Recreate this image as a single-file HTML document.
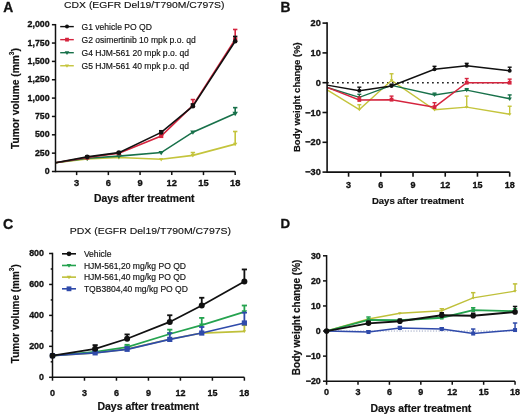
<!DOCTYPE html>
<html><head><meta charset="utf-8"><title>Figure</title>
<style>html,body{margin:0;padding:0;background:#fff;width:520px;height:414px;overflow:hidden}</style>
</head><body>
<svg width="520" height="414" viewBox="0 0 520 414" style="display:block;filter:blur(0.35px)">
<rect width="520" height="414" fill="#fff"/>
<g font-family='"Liberation Sans", sans-serif'>
<text x="3.3" y="11.8" font-size="13.8" font-weight="bold" fill="#111" stroke="#111" stroke-width="0.3">A</text>
<g transform="translate(0 8) scale(1 0.88)">
<text x="144.3" y="0" font-size="10.4" font-weight="normal" text-anchor="middle" fill="#111" stroke="#111" stroke-width="0.15" >CDX (EGFR Del19/T790M/C797S)</text>
</g>
<polyline points="55.5,162.77 87.21,159.02 118.92,157.55 161.2,159.32 192.91,155.35 235.19,144.12" fill="none" stroke="#c4c43c" stroke-width="1.6" stroke-linejoin="miter"/>
<line x1="192.91" y1="155.35" x2="192.91" y2="152.56" stroke="#c4c43c" stroke-width="1.6" />
<line x1="190.71" y1="152.56" x2="195.11" y2="152.56" stroke="#c4c43c" stroke-width="1.6" />
<line x1="235.19" y1="144.12" x2="235.19" y2="131.5" stroke="#c4c43c" stroke-width="1.6" />
<line x1="232.99" y1="131.5" x2="237.39" y2="131.5" stroke="#c4c43c" stroke-width="1.6" />
<path d="M85.03 157.69L89.4 157.69L87.21 161.11Z" fill="#c4c43c"/>
<path d="M116.73 156.22L121.11 156.22L118.92 159.64Z" fill="#c4c43c"/>
<path d="M159.01 157.99L163.38 157.99L161.2 161.41Z" fill="#c4c43c"/>
<path d="M190.72 154.02L195.09 154.02L192.91 157.44Z" fill="#c4c43c"/>
<path d="M233 142.79L237.38 142.79L235.19 146.21Z" fill="#c4c43c"/>
<polyline points="55.5,162.77 87.21,158.29 118.92,156.09 161.2,152.56 192.91,132.16 235.19,113.51" fill="none" stroke="#18714a" stroke-width="1.6" stroke-linejoin="miter"/>
<line x1="235.19" y1="113.51" x2="235.19" y2="107.64" stroke="#18714a" stroke-width="1.6" />
<line x1="232.99" y1="107.64" x2="237.39" y2="107.64" stroke="#18714a" stroke-width="1.6" />
<path d="M84.45 156.61L89.97 156.61L87.21 160.93Z" fill="#18714a"/>
<path d="M116.16 154.41L121.68 154.41L118.92 158.73Z" fill="#18714a"/>
<path d="M158.44 150.88L163.96 150.88L161.2 155.2Z" fill="#18714a"/>
<path d="M190.15 130.48L195.67 130.48L192.91 134.8Z" fill="#18714a"/>
<path d="M232.43 111.83L237.95 111.83L235.19 116.15Z" fill="#18714a"/>
<polyline points="55.5,162.77 87.21,157.55 118.92,153.15 161.2,135.97 192.91,105.44 235.19,39.38" fill="none" stroke="#d5243e" stroke-width="1.6" stroke-linejoin="miter"/>
<line x1="87.21" y1="157.55" x2="87.21" y2="156.97" stroke="#d5243e" stroke-width="1.6" />
<line x1="85.01" y1="156.97" x2="89.41" y2="156.97" stroke="#d5243e" stroke-width="1.6" />
<line x1="118.92" y1="153.15" x2="118.92" y2="152.42" stroke="#d5243e" stroke-width="1.6" />
<line x1="116.72" y1="152.42" x2="121.12" y2="152.42" stroke="#d5243e" stroke-width="1.6" />
<line x1="161.2" y1="135.97" x2="161.2" y2="134.87" stroke="#d5243e" stroke-width="1.6" />
<line x1="159" y1="134.87" x2="163.4" y2="134.87" stroke="#d5243e" stroke-width="1.6" />
<line x1="192.91" y1="105.44" x2="192.91" y2="99.57" stroke="#d5243e" stroke-width="1.6" />
<line x1="190.71" y1="99.57" x2="195.11" y2="99.57" stroke="#d5243e" stroke-width="1.6" />
<line x1="235.19" y1="39.38" x2="235.19" y2="29.47" stroke="#d5243e" stroke-width="1.6" />
<line x1="232.99" y1="29.47" x2="237.39" y2="29.47" stroke="#d5243e" stroke-width="1.6" />
<rect x="85.11" y="155.45" width="4.2" height="4.2" fill="#d5243e"/>
<rect x="116.82" y="151.05" width="4.2" height="4.2" fill="#d5243e"/>
<rect x="159.1" y="133.87" width="4.2" height="4.2" fill="#d5243e"/>
<rect x="190.81" y="103.34" width="4.2" height="4.2" fill="#d5243e"/>
<rect x="233.09" y="37.28" width="4.2" height="4.2" fill="#d5243e"/>
<polyline points="55.5,162.77 87.21,156.89 118.92,152.64 161.2,132.38 192.91,106.17 235.19,41.29" fill="none" stroke="#111111" stroke-width="1.6" stroke-linejoin="miter"/>
<line x1="87.21" y1="156.89" x2="87.21" y2="156.16" stroke="#111111" stroke-width="1.6" />
<line x1="85.01" y1="156.16" x2="89.41" y2="156.16" stroke="#111111" stroke-width="1.6" />
<line x1="118.92" y1="152.64" x2="118.92" y2="151.76" stroke="#111111" stroke-width="1.6" />
<line x1="116.72" y1="151.76" x2="121.12" y2="151.76" stroke="#111111" stroke-width="1.6" />
<line x1="161.2" y1="132.38" x2="161.2" y2="130.76" stroke="#111111" stroke-width="1.6" />
<line x1="159" y1="130.76" x2="163.4" y2="130.76" stroke="#111111" stroke-width="1.6" />
<line x1="192.91" y1="106.17" x2="192.91" y2="103.97" stroke="#111111" stroke-width="1.6" />
<line x1="190.71" y1="103.97" x2="195.11" y2="103.97" stroke="#111111" stroke-width="1.6" />
<line x1="235.19" y1="41.29" x2="235.19" y2="36.44" stroke="#111111" stroke-width="1.6" />
<line x1="232.99" y1="36.44" x2="237.39" y2="36.44" stroke="#111111" stroke-width="1.6" />
<circle cx="87.21" cy="156.89" r="2.3" fill="#111111"/>
<circle cx="118.92" cy="152.64" r="2.3" fill="#111111"/>
<circle cx="161.2" cy="132.38" r="2.3" fill="#111111"/>
<circle cx="192.91" cy="106.17" r="2.3" fill="#111111"/>
<circle cx="235.19" cy="41.29" r="2.3" fill="#111111"/>
<line x1="55.5" y1="23.95" x2="55.5" y2="172.25" stroke="#111" stroke-width="1.5" />
<line x1="55.5" y1="171.5" x2="235.19" y2="171.5" stroke="#111" stroke-width="1.5" />
<line x1="51.9" y1="171.5" x2="55.5" y2="171.5" stroke="#111" stroke-width="1.5" />
<text x="49.6" y="174.14" font-size="8.8" font-weight="bold" text-anchor="end" fill="#111" stroke="#111" stroke-width="0.32" >0</text>
<line x1="51.9" y1="153.15" x2="55.5" y2="153.15" stroke="#111" stroke-width="1.5" />
<text x="49.6" y="155.79" font-size="8.8" font-weight="bold" text-anchor="end" fill="#111" stroke="#111" stroke-width="0.32" >250</text>
<line x1="51.9" y1="134.8" x2="55.5" y2="134.8" stroke="#111" stroke-width="1.5" />
<text x="49.6" y="137.44" font-size="8.8" font-weight="bold" text-anchor="end" fill="#111" stroke="#111" stroke-width="0.32" >500</text>
<line x1="51.9" y1="116.45" x2="55.5" y2="116.45" stroke="#111" stroke-width="1.5" />
<text x="49.6" y="119.09" font-size="8.8" font-weight="bold" text-anchor="end" fill="#111" stroke="#111" stroke-width="0.32" >750</text>
<line x1="51.9" y1="98.1" x2="55.5" y2="98.1" stroke="#111" stroke-width="1.5" />
<text x="49.6" y="100.74" font-size="8.8" font-weight="bold" text-anchor="end" fill="#111" stroke="#111" stroke-width="0.32" >1,000</text>
<line x1="51.9" y1="79.75" x2="55.5" y2="79.75" stroke="#111" stroke-width="1.5" />
<text x="49.6" y="82.39" font-size="8.8" font-weight="bold" text-anchor="end" fill="#111" stroke="#111" stroke-width="0.32" >1,250</text>
<line x1="51.9" y1="61.4" x2="55.5" y2="61.4" stroke="#111" stroke-width="1.5" />
<text x="49.6" y="64.04" font-size="8.8" font-weight="bold" text-anchor="end" fill="#111" stroke="#111" stroke-width="0.32" >1,500</text>
<line x1="51.9" y1="43.05" x2="55.5" y2="43.05" stroke="#111" stroke-width="1.5" />
<text x="49.6" y="45.69" font-size="8.8" font-weight="bold" text-anchor="end" fill="#111" stroke="#111" stroke-width="0.32" >1,750</text>
<line x1="51.9" y1="24.7" x2="55.5" y2="24.7" stroke="#111" stroke-width="1.5" />
<text x="49.6" y="27.34" font-size="8.8" font-weight="bold" text-anchor="end" fill="#111" stroke="#111" stroke-width="0.32" >2,000</text>
<line x1="76.64" y1="171.5" x2="76.64" y2="175.1" stroke="#111" stroke-width="1.5" />
<text x="76.64" y="186" font-size="9.3" font-weight="bold" text-anchor="middle" fill="#111" stroke="#111" stroke-width="0.32" >3</text>
<line x1="108.35" y1="171.5" x2="108.35" y2="175.1" stroke="#111" stroke-width="1.5" />
<text x="108.35" y="186" font-size="9.3" font-weight="bold" text-anchor="middle" fill="#111" stroke="#111" stroke-width="0.32" >6</text>
<line x1="140.06" y1="171.5" x2="140.06" y2="175.1" stroke="#111" stroke-width="1.5" />
<text x="140.06" y="186" font-size="9.3" font-weight="bold" text-anchor="middle" fill="#111" stroke="#111" stroke-width="0.32" >9</text>
<line x1="171.77" y1="171.5" x2="171.77" y2="175.1" stroke="#111" stroke-width="1.5" />
<text x="171.77" y="186" font-size="9.3" font-weight="bold" text-anchor="middle" fill="#111" stroke="#111" stroke-width="0.32" >12</text>
<line x1="203.48" y1="171.5" x2="203.48" y2="175.1" stroke="#111" stroke-width="1.5" />
<text x="203.48" y="186" font-size="9.3" font-weight="bold" text-anchor="middle" fill="#111" stroke="#111" stroke-width="0.32" >15</text>
<line x1="235.19" y1="171.5" x2="235.19" y2="175.1" stroke="#111" stroke-width="1.5" />
<text x="235.19" y="186" font-size="9.3" font-weight="bold" text-anchor="middle" fill="#111" stroke="#111" stroke-width="0.32" >18</text>
<text x="144.3" y="201.9" font-size="10.4" font-weight="bold" text-anchor="middle" fill="#111" stroke="#111" stroke-width="0.2" >Days after treatment</text>
<text x="19.3" y="98.6" font-size="10.2" font-weight="bold" text-anchor="middle" fill="#111" stroke="#111" stroke-width="0.2" transform="rotate(-90 19.3 98.6)">Tumor volume (mm<tspan font-size="6.5" dy="-5.2">3</tspan><tspan dy="5.2">)</tspan></text>
<line x1="60.2" y1="26.6" x2="73.8" y2="26.6" stroke="#111111" stroke-width="1.4" />
<circle cx="67" cy="26.6" r="2" fill="#111111"/>
<text x="81.5" y="29.69" font-size="8.57" font-weight="normal" text-anchor="start" fill="#111" stroke="#111" stroke-width="0.15" >G1 vehicle PO QD</text>
<line x1="60.2" y1="39.65" x2="73.8" y2="39.65" stroke="#d5243e" stroke-width="1.4" />
<rect x="65.1" y="37.75" width="3.8" height="3.8" fill="#d5243e"/>
<text x="81.5" y="42.74" font-size="8.57" font-weight="normal" text-anchor="start" fill="#111" stroke="#111" stroke-width="0.15" >G2 osimertinib 10 mpk p.o. qd</text>
<line x1="60.2" y1="52.7" x2="73.8" y2="52.7" stroke="#18714a" stroke-width="1.4" />
<path d="M64.7 51.3L69.3 51.3L67 54.9Z" fill="#18714a"/>
<text x="81.5" y="55.79" font-size="8.57" font-weight="normal" text-anchor="start" fill="#111" stroke="#111" stroke-width="0.15" >G4 HJM-561 20 mpk p.o. qd</text>
<line x1="60.2" y1="65.75" x2="73.8" y2="65.75" stroke="#c4c43c" stroke-width="1.4" />
<path d="M64.93 64.49L69.07 64.49L67 67.73Z" fill="#c4c43c"/>
<text x="81.5" y="68.84" font-size="8.57" font-weight="normal" text-anchor="start" fill="#111" stroke="#111" stroke-width="0.15" >G5 HJM-561 40 mpk p.o. qd</text>
<text x="280.6" y="11.9" font-size="13.8" font-weight="bold" fill="#111" stroke="#111" stroke-width="0.3">B</text>
<line x1="327.1" y1="82.7" x2="509.68" y2="82.7" stroke="#111" stroke-width="1.5" stroke-dasharray="1.6 3.4"/>
<polyline points="327.1,89.85 359.32,109.52 391.54,80.32 434.5,109.82 466.72,107.14 509.68,114.29" fill="none" stroke="#c4c43c" stroke-width="1.4" stroke-linejoin="miter"/>
<line x1="359.32" y1="109.52" x2="359.32" y2="104.75" stroke="#c4c43c" stroke-width="1.4" />
<line x1="357.32" y1="104.75" x2="361.32" y2="104.75" stroke="#c4c43c" stroke-width="1.4" />
<line x1="391.54" y1="80.32" x2="391.54" y2="73.76" stroke="#c4c43c" stroke-width="1.4" />
<line x1="389.54" y1="73.76" x2="393.54" y2="73.76" stroke="#c4c43c" stroke-width="1.4" />
<line x1="466.72" y1="107.14" x2="466.72" y2="96.11" stroke="#c4c43c" stroke-width="1.4" />
<line x1="464.72" y1="96.11" x2="468.72" y2="96.11" stroke="#c4c43c" stroke-width="1.4" />
<line x1="509.68" y1="114.29" x2="509.68" y2="106.24" stroke="#c4c43c" stroke-width="1.4" />
<line x1="507.68" y1="106.24" x2="511.68" y2="106.24" stroke="#c4c43c" stroke-width="1.4" />
<path d="M357.6 108.47L361.05 108.47L359.32 111.17Z" fill="#c4c43c"/>
<path d="M389.81 79.27L393.27 79.27L391.54 81.97Z" fill="#c4c43c"/>
<path d="M432.77 108.77L436.23 108.77L434.5 111.47Z" fill="#c4c43c"/>
<path d="M465 106.09L468.45 106.09L466.72 108.79Z" fill="#c4c43c"/>
<path d="M507.96 113.24L511.41 113.24L509.68 115.94Z" fill="#c4c43c"/>
<polyline points="327.1,87.47 359.32,97.3 391.54,85.38 434.5,94.92 466.72,90.15 509.68,98.79" fill="none" stroke="#18714a" stroke-width="1.4" stroke-linejoin="miter"/>
<line x1="359.32" y1="97.3" x2="359.32" y2="94.32" stroke="#18714a" stroke-width="1.4" />
<line x1="357.32" y1="94.32" x2="361.32" y2="94.32" stroke="#18714a" stroke-width="1.4" />
<line x1="434.5" y1="94.92" x2="434.5" y2="93.13" stroke="#18714a" stroke-width="1.4" />
<line x1="432.5" y1="93.13" x2="436.5" y2="93.13" stroke="#18714a" stroke-width="1.4" />
<line x1="466.72" y1="90.15" x2="466.72" y2="88.66" stroke="#18714a" stroke-width="1.4" />
<line x1="464.72" y1="88.66" x2="468.72" y2="88.66" stroke="#18714a" stroke-width="1.4" />
<line x1="509.68" y1="98.79" x2="509.68" y2="94.92" stroke="#18714a" stroke-width="1.4" />
<line x1="507.68" y1="94.92" x2="511.68" y2="94.92" stroke="#18714a" stroke-width="1.4" />
<path d="M357.14 95.97L361.51 95.97L359.32 99.39Z" fill="#18714a"/>
<path d="M389.36 84.05L393.73 84.05L391.54 87.47Z" fill="#18714a"/>
<path d="M432.31 93.59L436.69 93.59L434.5 97.01Z" fill="#18714a"/>
<path d="M464.54 88.82L468.91 88.82L466.72 92.24Z" fill="#18714a"/>
<path d="M507.5 97.46L511.87 97.46L509.68 100.88Z" fill="#18714a"/>
<polyline points="327.1,87.47 359.32,99.98 391.54,99.69 434.5,107.14 466.72,82.7 509.68,82.7" fill="none" stroke="#d5243e" stroke-width="1.4" stroke-linejoin="miter"/>
<line x1="359.32" y1="99.98" x2="359.32" y2="97" stroke="#d5243e" stroke-width="1.4" />
<line x1="357.32" y1="97" x2="361.32" y2="97" stroke="#d5243e" stroke-width="1.4" />
<line x1="391.54" y1="99.69" x2="391.54" y2="96.11" stroke="#d5243e" stroke-width="1.4" />
<line x1="389.54" y1="96.11" x2="393.54" y2="96.11" stroke="#d5243e" stroke-width="1.4" />
<line x1="434.5" y1="107.14" x2="434.5" y2="102.67" stroke="#d5243e" stroke-width="1.4" />
<line x1="432.5" y1="102.67" x2="436.5" y2="102.67" stroke="#d5243e" stroke-width="1.4" />
<line x1="466.72" y1="82.7" x2="466.72" y2="78.53" stroke="#d5243e" stroke-width="1.4" />
<line x1="464.72" y1="78.53" x2="468.72" y2="78.53" stroke="#d5243e" stroke-width="1.4" />
<line x1="509.68" y1="82.7" x2="509.68" y2="79.12" stroke="#d5243e" stroke-width="1.4" />
<line x1="507.68" y1="79.12" x2="511.68" y2="79.12" stroke="#d5243e" stroke-width="1.4" />
<rect x="357.42" y="98.08" width="3.8" height="3.8" fill="#d5243e"/>
<rect x="389.64" y="97.79" width="3.8" height="3.8" fill="#d5243e"/>
<rect x="432.6" y="105.24" width="3.8" height="3.8" fill="#d5243e"/>
<rect x="464.82" y="80.8" width="3.8" height="3.8" fill="#d5243e"/>
<rect x="507.78" y="80.8" width="3.8" height="3.8" fill="#d5243e"/>
<polyline points="327.1,85.08 359.32,90.75 391.54,85.98 434.5,69.29 466.72,65.71 509.68,70.78" fill="none" stroke="#111111" stroke-width="1.4" stroke-linejoin="miter"/>
<line x1="359.32" y1="90.75" x2="359.32" y2="87.17" stroke="#111111" stroke-width="1.4" />
<line x1="357.32" y1="87.17" x2="361.32" y2="87.17" stroke="#111111" stroke-width="1.4" />
<line x1="391.54" y1="85.98" x2="391.54" y2="84.19" stroke="#111111" stroke-width="1.4" />
<line x1="389.54" y1="84.19" x2="393.54" y2="84.19" stroke="#111111" stroke-width="1.4" />
<line x1="434.5" y1="69.29" x2="434.5" y2="66.31" stroke="#111111" stroke-width="1.4" />
<line x1="432.5" y1="66.31" x2="436.5" y2="66.31" stroke="#111111" stroke-width="1.4" />
<line x1="466.72" y1="65.71" x2="466.72" y2="63.33" stroke="#111111" stroke-width="1.4" />
<line x1="464.72" y1="63.33" x2="468.72" y2="63.33" stroke="#111111" stroke-width="1.4" />
<line x1="509.68" y1="70.78" x2="509.68" y2="67.2" stroke="#111111" stroke-width="1.4" />
<line x1="507.68" y1="67.2" x2="511.68" y2="67.2" stroke="#111111" stroke-width="1.4" />
<circle cx="359.32" cy="90.75" r="2" fill="#111111"/>
<circle cx="391.54" cy="85.98" r="2" fill="#111111"/>
<circle cx="434.5" cy="69.29" r="2" fill="#111111"/>
<circle cx="466.72" cy="65.71" r="2" fill="#111111"/>
<circle cx="509.68" cy="70.78" r="2" fill="#111111"/>
<line x1="327.1" y1="22.3" x2="327.1" y2="172.9" stroke="#111" stroke-width="1.6" />
<line x1="327.1" y1="172.1" x2="509.68" y2="172.1" stroke="#111" stroke-width="1.6" />
<line x1="322.5" y1="172.1" x2="327.1" y2="172.1" stroke="#111" stroke-width="1.6" />
<text x="320.8" y="175.14" font-size="9.2" font-weight="bold" text-anchor="end" fill="#111" stroke="#111" stroke-width="0.32" >&#8722;30</text>
<line x1="322.5" y1="142.3" x2="327.1" y2="142.3" stroke="#111" stroke-width="1.6" />
<text x="320.8" y="145.34" font-size="9.2" font-weight="bold" text-anchor="end" fill="#111" stroke="#111" stroke-width="0.32" >&#8722;20</text>
<line x1="322.5" y1="112.5" x2="327.1" y2="112.5" stroke="#111" stroke-width="1.6" />
<text x="320.8" y="115.54" font-size="9.2" font-weight="bold" text-anchor="end" fill="#111" stroke="#111" stroke-width="0.32" >&#8722;10</text>
<line x1="322.5" y1="82.7" x2="327.1" y2="82.7" stroke="#111" stroke-width="1.6" />
<text x="320.8" y="85.74" font-size="9.2" font-weight="bold" text-anchor="end" fill="#111" stroke="#111" stroke-width="0.32" >0</text>
<line x1="322.5" y1="52.9" x2="327.1" y2="52.9" stroke="#111" stroke-width="1.6" />
<text x="320.8" y="55.94" font-size="9.2" font-weight="bold" text-anchor="end" fill="#111" stroke="#111" stroke-width="0.32" >10</text>
<line x1="322.5" y1="23.1" x2="327.1" y2="23.1" stroke="#111" stroke-width="1.6" />
<text x="320.8" y="26.14" font-size="9.2" font-weight="bold" text-anchor="end" fill="#111" stroke="#111" stroke-width="0.32" >20</text>
<line x1="348.58" y1="172.1" x2="348.58" y2="176.7" stroke="#111" stroke-width="1.6" />
<text x="348.58" y="187.5" font-size="9.0" font-weight="bold" text-anchor="middle" fill="#111" stroke="#111" stroke-width="0.32" >3</text>
<line x1="380.8" y1="172.1" x2="380.8" y2="176.7" stroke="#111" stroke-width="1.6" />
<text x="380.8" y="187.5" font-size="9.0" font-weight="bold" text-anchor="middle" fill="#111" stroke="#111" stroke-width="0.32" >6</text>
<line x1="413.02" y1="172.1" x2="413.02" y2="176.7" stroke="#111" stroke-width="1.6" />
<text x="413.02" y="187.5" font-size="9.0" font-weight="bold" text-anchor="middle" fill="#111" stroke="#111" stroke-width="0.32" >9</text>
<line x1="445.24" y1="172.1" x2="445.24" y2="176.7" stroke="#111" stroke-width="1.6" />
<text x="445.24" y="187.5" font-size="9.0" font-weight="bold" text-anchor="middle" fill="#111" stroke="#111" stroke-width="0.32" >12</text>
<line x1="477.46" y1="172.1" x2="477.46" y2="176.7" stroke="#111" stroke-width="1.6" />
<text x="477.46" y="187.5" font-size="9.0" font-weight="bold" text-anchor="middle" fill="#111" stroke="#111" stroke-width="0.32" >15</text>
<line x1="509.68" y1="172.1" x2="509.68" y2="176.7" stroke="#111" stroke-width="1.6" />
<text x="509.68" y="187.5" font-size="9.0" font-weight="bold" text-anchor="middle" fill="#111" stroke="#111" stroke-width="0.32" >18</text>
<text x="417.9" y="203.5" font-size="9.5" font-weight="bold" text-anchor="middle" fill="#111" stroke="#111" stroke-width="0.2" >Days after treatment</text>
<text x="300.3" y="97.1" font-size="9.5" font-weight="bold" text-anchor="middle" fill="#111" stroke="#111" stroke-width="0.2" transform="rotate(-90 300.3 97.1)">Body weight change (%)</text>
<text x="3.1" y="228.5" font-size="14.2" font-weight="bold" fill="#111" stroke="#111" stroke-width="0.3">C</text>
<g transform="translate(0 234) scale(1 0.94)">
<text x="150.4" y="0" font-size="10.5" font-weight="normal" text-anchor="middle" fill="#111" stroke="#111" stroke-width="0.15" >PDX (EGFR Del19/T790M/C797S)</text>
</g>
<polyline points="52.5,355.63 95.14,352.85 127.12,349.14 169.76,339.23 201.74,333.04 244.38,331.34" fill="none" stroke="#bfc03a" stroke-width="1.7" stroke-linejoin="miter"/>
<line x1="244.38" y1="331.34" x2="244.38" y2="325.15" stroke="#bfc03a" stroke-width="1.8" />
<line x1="241.78" y1="325.15" x2="246.98" y2="325.15" stroke="#bfc03a" stroke-width="1.8" />
<path d="M50.77 354.58L54.23 354.58L52.5 357.28Z" fill="#bfc03a"/>
<path d="M93.42 351.8L96.86 351.8L95.14 354.5Z" fill="#bfc03a"/>
<path d="M125.4 348.09L128.84 348.09L127.12 350.79Z" fill="#bfc03a"/>
<path d="M168.03 338.18L171.48 338.18L169.76 340.88Z" fill="#bfc03a"/>
<path d="M200.02 331.99L203.47 331.99L201.74 334.69Z" fill="#bfc03a"/>
<path d="M242.66 330.29L246.1 330.29L244.38 332.99Z" fill="#bfc03a"/>
<polyline points="52.5,355.63 95.14,351.77 127.12,347.12 169.76,333.97 201.74,325.15 244.38,311.84" fill="none" stroke="#25a34f" stroke-width="1.7" stroke-linejoin="miter"/>
<line x1="95.14" y1="351.77" x2="95.14" y2="349.91" stroke="#25a34f" stroke-width="1.8" />
<line x1="92.54" y1="349.91" x2="97.74" y2="349.91" stroke="#25a34f" stroke-width="1.8" />
<line x1="127.12" y1="347.12" x2="127.12" y2="344.8" stroke="#25a34f" stroke-width="1.8" />
<line x1="124.52" y1="344.8" x2="129.72" y2="344.8" stroke="#25a34f" stroke-width="1.8" />
<line x1="169.76" y1="333.97" x2="169.76" y2="329.64" stroke="#25a34f" stroke-width="1.8" />
<line x1="167.16" y1="329.64" x2="172.36" y2="329.64" stroke="#25a34f" stroke-width="1.8" />
<line x1="201.74" y1="325.15" x2="201.74" y2="317.88" stroke="#25a34f" stroke-width="1.8" />
<line x1="199.14" y1="317.88" x2="204.34" y2="317.88" stroke="#25a34f" stroke-width="1.8" />
<line x1="244.38" y1="311.84" x2="244.38" y2="305.5" stroke="#25a34f" stroke-width="1.8" />
<line x1="241.78" y1="305.5" x2="246.98" y2="305.5" stroke="#25a34f" stroke-width="1.8" />
<path d="M49.74 353.95L55.26 353.95L52.5 358.27Z" fill="#25a34f"/>
<path d="M92.38 350.09L97.9 350.09L95.14 354.41Z" fill="#25a34f"/>
<path d="M124.36 345.44L129.88 345.44L127.12 349.76Z" fill="#25a34f"/>
<path d="M167 332.29L172.52 332.29L169.76 336.61Z" fill="#25a34f"/>
<path d="M198.98 323.47L204.5 323.47L201.74 327.79Z" fill="#25a34f"/>
<path d="M241.62 310.16L247.14 310.16L244.38 314.48Z" fill="#25a34f"/>
<polyline points="52.5,355.63 95.14,352.85 127.12,349.29 169.76,339.39 201.74,333.04 244.38,322.98" fill="none" stroke="#2f4aaa" stroke-width="1.7" stroke-linejoin="miter"/>
<line x1="95.14" y1="352.85" x2="95.14" y2="351.3" stroke="#2f4aaa" stroke-width="1.8" />
<line x1="92.54" y1="351.3" x2="97.74" y2="351.3" stroke="#2f4aaa" stroke-width="1.8" />
<line x1="127.12" y1="349.29" x2="127.12" y2="347.12" stroke="#2f4aaa" stroke-width="1.8" />
<line x1="124.52" y1="347.12" x2="129.72" y2="347.12" stroke="#2f4aaa" stroke-width="1.8" />
<line x1="169.76" y1="339.39" x2="169.76" y2="333.2" stroke="#2f4aaa" stroke-width="1.8" />
<line x1="167.16" y1="333.2" x2="172.36" y2="333.2" stroke="#2f4aaa" stroke-width="1.8" />
<line x1="201.74" y1="333.04" x2="201.74" y2="327.01" stroke="#2f4aaa" stroke-width="1.8" />
<line x1="199.14" y1="327.01" x2="204.34" y2="327.01" stroke="#2f4aaa" stroke-width="1.8" />
<line x1="244.38" y1="322.98" x2="244.38" y2="312.61" stroke="#2f4aaa" stroke-width="1.8" />
<line x1="241.78" y1="312.61" x2="246.98" y2="312.61" stroke="#2f4aaa" stroke-width="1.8" />
<rect x="49.9" y="353.03" width="5.2" height="5.2" fill="#2f4aaa"/>
<rect x="92.54" y="350.25" width="5.2" height="5.2" fill="#2f4aaa"/>
<rect x="124.52" y="346.69" width="5.2" height="5.2" fill="#2f4aaa"/>
<rect x="167.16" y="336.79" width="5.2" height="5.2" fill="#2f4aaa"/>
<rect x="199.14" y="330.44" width="5.2" height="5.2" fill="#2f4aaa"/>
<rect x="241.78" y="320.38" width="5.2" height="5.2" fill="#2f4aaa"/>
<polyline points="52.5,355.63 95.14,348.83 127.12,338.77 169.76,321.9 201.74,305.5 244.38,281.51" fill="none" stroke="#111111" stroke-width="1.7" stroke-linejoin="miter"/>
<line x1="95.14" y1="348.83" x2="95.14" y2="345.11" stroke="#111111" stroke-width="1.8" />
<line x1="92.54" y1="345.11" x2="97.74" y2="345.11" stroke="#111111" stroke-width="1.8" />
<line x1="127.12" y1="338.77" x2="127.12" y2="334.43" stroke="#111111" stroke-width="1.8" />
<line x1="124.52" y1="334.43" x2="129.72" y2="334.43" stroke="#111111" stroke-width="1.8" />
<line x1="169.76" y1="321.9" x2="169.76" y2="315.25" stroke="#111111" stroke-width="1.8" />
<line x1="167.16" y1="315.25" x2="172.36" y2="315.25" stroke="#111111" stroke-width="1.8" />
<line x1="201.74" y1="305.5" x2="201.74" y2="297.76" stroke="#111111" stroke-width="1.8" />
<line x1="199.14" y1="297.76" x2="204.34" y2="297.76" stroke="#111111" stroke-width="1.8" />
<line x1="244.38" y1="281.51" x2="244.38" y2="269.44" stroke="#111111" stroke-width="1.8" />
<line x1="241.78" y1="269.44" x2="246.98" y2="269.44" stroke="#111111" stroke-width="1.8" />
<circle cx="52.5" cy="355.63" r="3" fill="#111111"/>
<circle cx="95.14" cy="348.83" r="3" fill="#111111"/>
<circle cx="127.12" cy="338.77" r="3" fill="#111111"/>
<circle cx="169.76" cy="321.9" r="3" fill="#111111"/>
<circle cx="201.74" cy="305.5" r="3" fill="#111111"/>
<circle cx="244.38" cy="281.51" r="3" fill="#111111"/>
<line x1="52.5" y1="252.75" x2="52.5" y2="378.05" stroke="#111" stroke-width="1.5" />
<line x1="52.5" y1="377.3" x2="244.38" y2="377.3" stroke="#111" stroke-width="1.5" />
<line x1="49.1" y1="377.3" x2="52.5" y2="377.3" stroke="#111" stroke-width="1.5" />
<text x="44" y="380.24" font-size="8.9" font-weight="bold" text-anchor="end" fill="#111" stroke="#111" stroke-width="0.32" >0</text>
<line x1="49.1" y1="346.35" x2="52.5" y2="346.35" stroke="#111" stroke-width="1.5" />
<text x="44" y="349.29" font-size="8.9" font-weight="bold" text-anchor="end" fill="#111" stroke="#111" stroke-width="0.32" >200</text>
<line x1="49.1" y1="315.4" x2="52.5" y2="315.4" stroke="#111" stroke-width="1.5" />
<text x="44" y="318.34" font-size="8.9" font-weight="bold" text-anchor="end" fill="#111" stroke="#111" stroke-width="0.32" >400</text>
<line x1="49.1" y1="284.45" x2="52.5" y2="284.45" stroke="#111" stroke-width="1.5" />
<text x="44" y="287.39" font-size="8.9" font-weight="bold" text-anchor="end" fill="#111" stroke="#111" stroke-width="0.32" >600</text>
<line x1="49.1" y1="253.5" x2="52.5" y2="253.5" stroke="#111" stroke-width="1.5" />
<text x="44" y="256.44" font-size="8.9" font-weight="bold" text-anchor="end" fill="#111" stroke="#111" stroke-width="0.32" >800</text>
<line x1="50.7" y1="361.82" x2="52.5" y2="361.82" stroke="#111" stroke-width="1.5" />
<line x1="50.7" y1="330.88" x2="52.5" y2="330.88" stroke="#111" stroke-width="1.5" />
<line x1="50.7" y1="299.93" x2="52.5" y2="299.93" stroke="#111" stroke-width="1.5" />
<line x1="50.7" y1="268.98" x2="52.5" y2="268.98" stroke="#111" stroke-width="1.5" />
<line x1="52.5" y1="377.3" x2="52.5" y2="380.7" stroke="#111" stroke-width="1.5" />
<text x="52.5" y="395.7" font-size="9.0" font-weight="bold" text-anchor="middle" fill="#111" stroke="#111" stroke-width="0.32" >0</text>
<line x1="84.48" y1="377.3" x2="84.48" y2="380.7" stroke="#111" stroke-width="1.5" />
<text x="84.48" y="395.7" font-size="9.0" font-weight="bold" text-anchor="middle" fill="#111" stroke="#111" stroke-width="0.32" >3</text>
<line x1="116.46" y1="377.3" x2="116.46" y2="380.7" stroke="#111" stroke-width="1.5" />
<text x="116.46" y="395.7" font-size="9.0" font-weight="bold" text-anchor="middle" fill="#111" stroke="#111" stroke-width="0.32" >6</text>
<line x1="148.44" y1="377.3" x2="148.44" y2="380.7" stroke="#111" stroke-width="1.5" />
<text x="148.44" y="395.7" font-size="9.0" font-weight="bold" text-anchor="middle" fill="#111" stroke="#111" stroke-width="0.32" >9</text>
<line x1="180.42" y1="377.3" x2="180.42" y2="380.7" stroke="#111" stroke-width="1.5" />
<text x="180.42" y="395.7" font-size="9.0" font-weight="bold" text-anchor="middle" fill="#111" stroke="#111" stroke-width="0.32" >12</text>
<line x1="212.4" y1="377.3" x2="212.4" y2="380.7" stroke="#111" stroke-width="1.5" />
<text x="212.4" y="395.7" font-size="9.0" font-weight="bold" text-anchor="middle" fill="#111" stroke="#111" stroke-width="0.32" >15</text>
<line x1="244.38" y1="377.3" x2="244.38" y2="380.7" stroke="#111" stroke-width="1.5" />
<text x="244.38" y="395.7" font-size="9.0" font-weight="bold" text-anchor="middle" fill="#111" stroke="#111" stroke-width="0.32" >18</text>
<text x="148.2" y="410.4" font-size="10.5" font-weight="bold" text-anchor="middle" fill="#111" stroke="#111" stroke-width="0.2" >Days after treatment</text>
<text x="19.2" y="313.75" font-size="10.0" font-weight="bold" text-anchor="middle" fill="#111" stroke="#111" stroke-width="0.2" transform="rotate(-90 19.2 313.75)">Tumor volume (mm<tspan font-size="6.4" dy="-5.3">3</tspan><tspan dy="5.3">)</tspan></text>
<line x1="62" y1="253.8" x2="76" y2="253.8" stroke="#111111" stroke-width="1.6" />
<circle cx="69" cy="253.8" r="2.4" fill="#111111"/>
<text x="83.9" y="256.88" font-size="8.55" font-weight="normal" text-anchor="start" fill="#111" stroke="#111" stroke-width="0.15" >Vehicle</text>
<line x1="62" y1="265.47" x2="76" y2="265.47" stroke="#25a34f" stroke-width="1.6" />
<path d="M66.7 264.07L71.3 264.07L69 267.67Z" fill="#25a34f"/>
<text x="83.9" y="268.55" font-size="8.55" font-weight="normal" text-anchor="start" fill="#111" stroke="#111" stroke-width="0.15" >HJM-561,20 mg/kg PO QD</text>
<line x1="62" y1="277.14" x2="76" y2="277.14" stroke="#bfc03a" stroke-width="1.6" />
<path d="M66.7 275.74L71.3 275.74L69 279.34Z" fill="#bfc03a"/>
<text x="83.9" y="280.22" font-size="8.55" font-weight="normal" text-anchor="start" fill="#111" stroke="#111" stroke-width="0.15" >HJM-561,40 mg/kg PO QD</text>
<line x1="62" y1="288.81" x2="76" y2="288.81" stroke="#2f4aaa" stroke-width="1.6" />
<rect x="66.6" y="286.41" width="4.8" height="4.8" fill="#2f4aaa"/>
<text x="83.9" y="291.89" font-size="8.55" font-weight="normal" text-anchor="start" fill="#111" stroke="#111" stroke-width="0.15" >TQB3804,40 mg/kg PO QD</text>
<text x="280.5" y="228.3" font-size="13.3" font-weight="bold" fill="#111" stroke="#111" stroke-width="0.3">D</text>
<line x1="326.6" y1="331.04" x2="515.06" y2="331.04" stroke="#9aa3c0" stroke-width="1.0" stroke-dasharray="1.2 1.6"/>
<polyline points="326.6,331.04 368.48,319 399.89,313.23 441.77,310.73 473.18,297.93 515.06,291.16" fill="none" stroke="#bfc03a" stroke-width="1.4" stroke-linejoin="miter"/>
<line x1="441.77" y1="310.73" x2="441.77" y2="308.72" stroke="#bfc03a" stroke-width="1.5" />
<line x1="439.57" y1="308.72" x2="443.97" y2="308.72" stroke="#bfc03a" stroke-width="1.5" />
<line x1="473.18" y1="297.93" x2="473.18" y2="292.67" stroke="#bfc03a" stroke-width="1.5" />
<line x1="470.98" y1="292.67" x2="475.38" y2="292.67" stroke="#bfc03a" stroke-width="1.5" />
<line x1="515.06" y1="291.16" x2="515.06" y2="283.89" stroke="#bfc03a" stroke-width="1.5" />
<line x1="512.86" y1="283.89" x2="517.26" y2="283.89" stroke="#bfc03a" stroke-width="1.5" />
<path d="M324.88 329.99L328.33 329.99L326.6 332.69Z" fill="#bfc03a"/>
<path d="M366.75 317.95L370.21 317.95L368.48 320.65Z" fill="#bfc03a"/>
<path d="M398.17 312.18L401.62 312.18L399.89 314.88Z" fill="#bfc03a"/>
<path d="M440.05 309.68L443.5 309.68L441.77 312.38Z" fill="#bfc03a"/>
<path d="M471.46 296.88L474.91 296.88L473.18 299.58Z" fill="#bfc03a"/>
<path d="M513.34 290.11L516.79 290.11L515.06 292.81Z" fill="#bfc03a"/>
<polyline points="326.6,331.04 368.48,332.04 399.89,328.03 441.77,329.03 473.18,333.55 515.06,330.04" fill="none" stroke="#2f4aaa" stroke-width="1.5" stroke-linejoin="miter"/>
<line x1="368.48" y1="332.04" x2="368.48" y2="330.79" stroke="#2f4aaa" stroke-width="1.5" />
<line x1="366.28" y1="330.79" x2="370.68" y2="330.79" stroke="#2f4aaa" stroke-width="1.5" />
<line x1="399.89" y1="328.03" x2="399.89" y2="326.53" stroke="#2f4aaa" stroke-width="1.5" />
<line x1="397.69" y1="326.53" x2="402.09" y2="326.53" stroke="#2f4aaa" stroke-width="1.5" />
<line x1="441.77" y1="329.03" x2="441.77" y2="327.78" stroke="#2f4aaa" stroke-width="1.5" />
<line x1="439.57" y1="327.78" x2="443.97" y2="327.78" stroke="#2f4aaa" stroke-width="1.5" />
<line x1="473.18" y1="333.55" x2="473.18" y2="329.03" stroke="#2f4aaa" stroke-width="1.5" />
<line x1="470.98" y1="329.03" x2="475.38" y2="329.03" stroke="#2f4aaa" stroke-width="1.5" />
<line x1="515.06" y1="330.04" x2="515.06" y2="323.01" stroke="#2f4aaa" stroke-width="1.5" />
<line x1="512.86" y1="323.01" x2="517.26" y2="323.01" stroke="#2f4aaa" stroke-width="1.5" />
<rect x="324.6" y="329.04" width="4" height="4" fill="#2f4aaa"/>
<rect x="366.48" y="330.04" width="4" height="4" fill="#2f4aaa"/>
<rect x="397.89" y="326.03" width="4" height="4" fill="#2f4aaa"/>
<rect x="439.77" y="327.03" width="4" height="4" fill="#2f4aaa"/>
<rect x="471.18" y="331.55" width="4" height="4" fill="#2f4aaa"/>
<rect x="513.06" y="328.04" width="4" height="4" fill="#2f4aaa"/>
<polyline points="326.6,331.04 368.48,320 399.89,320.26 441.77,317.75 473.18,310.22 515.06,311.23" fill="none" stroke="#25a34f" stroke-width="1.8" stroke-linejoin="miter"/>
<line x1="368.48" y1="320" x2="368.48" y2="317" stroke="#25a34f" stroke-width="1.5" />
<line x1="366.28" y1="317" x2="370.68" y2="317" stroke="#25a34f" stroke-width="1.5" />
<line x1="473.18" y1="310.22" x2="473.18" y2="307.72" stroke="#25a34f" stroke-width="1.5" />
<line x1="470.98" y1="307.72" x2="475.38" y2="307.72" stroke="#25a34f" stroke-width="1.5" />
<line x1="515.06" y1="311.23" x2="515.06" y2="308.72" stroke="#25a34f" stroke-width="1.5" />
<line x1="512.86" y1="308.72" x2="517.26" y2="308.72" stroke="#25a34f" stroke-width="1.5" />
<rect x="324.8" y="329.24" width="3.6" height="3.6" fill="#25a34f"/>
<rect x="366.68" y="318.2" width="3.6" height="3.6" fill="#25a34f"/>
<rect x="398.09" y="318.46" width="3.6" height="3.6" fill="#25a34f"/>
<rect x="439.97" y="315.95" width="3.6" height="3.6" fill="#25a34f"/>
<rect x="471.38" y="308.42" width="3.6" height="3.6" fill="#25a34f"/>
<rect x="513.26" y="309.43" width="3.6" height="3.6" fill="#25a34f"/>
<polyline points="326.6,331.04 368.48,323.27 399.89,321.26 441.77,315.24 473.18,315.74 515.06,311.98" fill="none" stroke="#111111" stroke-width="1.8" stroke-linejoin="miter"/>
<line x1="368.48" y1="323.27" x2="368.48" y2="321.26" stroke="#111111" stroke-width="1.5" />
<line x1="366.28" y1="321.26" x2="370.68" y2="321.26" stroke="#111111" stroke-width="1.5" />
<line x1="399.89" y1="321.26" x2="399.89" y2="319.25" stroke="#111111" stroke-width="1.5" />
<line x1="397.69" y1="319.25" x2="402.09" y2="319.25" stroke="#111111" stroke-width="1.5" />
<line x1="441.77" y1="315.24" x2="441.77" y2="312.73" stroke="#111111" stroke-width="1.5" />
<line x1="439.57" y1="312.73" x2="443.97" y2="312.73" stroke="#111111" stroke-width="1.5" />
<line x1="473.18" y1="315.74" x2="473.18" y2="313.23" stroke="#111111" stroke-width="1.5" />
<line x1="470.98" y1="313.23" x2="475.38" y2="313.23" stroke="#111111" stroke-width="1.5" />
<line x1="515.06" y1="311.98" x2="515.06" y2="306.46" stroke="#111111" stroke-width="1.5" />
<line x1="512.86" y1="306.46" x2="517.26" y2="306.46" stroke="#111111" stroke-width="1.5" />
<circle cx="326.6" cy="331.04" r="2.8" fill="#111111"/>
<circle cx="368.48" cy="323.27" r="2.8" fill="#111111"/>
<circle cx="399.89" cy="321.26" r="2.8" fill="#111111"/>
<circle cx="441.77" cy="315.24" r="2.8" fill="#111111"/>
<circle cx="473.18" cy="315.74" r="2.8" fill="#111111"/>
<circle cx="515.06" cy="311.98" r="2.8" fill="#111111"/>
<line x1="326.6" y1="255.05" x2="326.6" y2="381.95" stroke="#111" stroke-width="1.5" />
<line x1="326.6" y1="381.2" x2="515.06" y2="381.2" stroke="#111" stroke-width="1.5" />
<line x1="323" y1="381.2" x2="326.6" y2="381.2" stroke="#111" stroke-width="1.5" />
<text x="320.8" y="384.14" font-size="8.9" font-weight="bold" text-anchor="end" fill="#111" stroke="#111" stroke-width="0.32" >&#8722;20</text>
<line x1="323" y1="356.12" x2="326.6" y2="356.12" stroke="#111" stroke-width="1.5" />
<text x="320.8" y="359.06" font-size="8.9" font-weight="bold" text-anchor="end" fill="#111" stroke="#111" stroke-width="0.32" >&#8722;10</text>
<line x1="323" y1="331.04" x2="326.6" y2="331.04" stroke="#111" stroke-width="1.5" />
<text x="320.8" y="333.98" font-size="8.9" font-weight="bold" text-anchor="end" fill="#111" stroke="#111" stroke-width="0.32" >0</text>
<line x1="323" y1="305.96" x2="326.6" y2="305.96" stroke="#111" stroke-width="1.5" />
<text x="320.8" y="308.9" font-size="8.9" font-weight="bold" text-anchor="end" fill="#111" stroke="#111" stroke-width="0.32" >10</text>
<line x1="323" y1="280.88" x2="326.6" y2="280.88" stroke="#111" stroke-width="1.5" />
<text x="320.8" y="283.82" font-size="8.9" font-weight="bold" text-anchor="end" fill="#111" stroke="#111" stroke-width="0.32" >20</text>
<line x1="323" y1="255.8" x2="326.6" y2="255.8" stroke="#111" stroke-width="1.5" />
<text x="320.8" y="258.74" font-size="8.9" font-weight="bold" text-anchor="end" fill="#111" stroke="#111" stroke-width="0.32" >30</text>
<line x1="326.6" y1="381.2" x2="326.6" y2="384.8" stroke="#111" stroke-width="1.5" />
<text x="326.6" y="395.3" font-size="9.0" font-weight="bold" text-anchor="middle" fill="#111" stroke="#111" stroke-width="0.32" >0</text>
<line x1="358.01" y1="381.2" x2="358.01" y2="384.8" stroke="#111" stroke-width="1.5" />
<text x="358.01" y="395.3" font-size="9.0" font-weight="bold" text-anchor="middle" fill="#111" stroke="#111" stroke-width="0.32" >3</text>
<line x1="389.42" y1="381.2" x2="389.42" y2="384.8" stroke="#111" stroke-width="1.5" />
<text x="389.42" y="395.3" font-size="9.0" font-weight="bold" text-anchor="middle" fill="#111" stroke="#111" stroke-width="0.32" >6</text>
<line x1="420.83" y1="381.2" x2="420.83" y2="384.8" stroke="#111" stroke-width="1.5" />
<text x="420.83" y="395.3" font-size="9.0" font-weight="bold" text-anchor="middle" fill="#111" stroke="#111" stroke-width="0.32" >9</text>
<line x1="452.24" y1="381.2" x2="452.24" y2="384.8" stroke="#111" stroke-width="1.5" />
<text x="452.24" y="395.3" font-size="9.0" font-weight="bold" text-anchor="middle" fill="#111" stroke="#111" stroke-width="0.32" >12</text>
<line x1="483.65" y1="381.2" x2="483.65" y2="384.8" stroke="#111" stroke-width="1.5" />
<text x="483.65" y="395.3" font-size="9.0" font-weight="bold" text-anchor="middle" fill="#111" stroke="#111" stroke-width="0.32" >15</text>
<line x1="515.06" y1="381.2" x2="515.06" y2="384.8" stroke="#111" stroke-width="1.5" />
<text x="515.06" y="395.3" font-size="9.0" font-weight="bold" text-anchor="middle" fill="#111" stroke="#111" stroke-width="0.32" >18</text>
<text x="420.85" y="412" font-size="10.45" font-weight="bold" text-anchor="middle" fill="#111" stroke="#111" stroke-width="0.2" >Days after treatment</text>
<text x="300.1" y="317.4" font-size="10.0" font-weight="bold" text-anchor="middle" fill="#111" stroke="#111" stroke-width="0.2" transform="rotate(-90 300.1 317.4)">Body weight change (%)</text>
</g></svg>
</body></html>
